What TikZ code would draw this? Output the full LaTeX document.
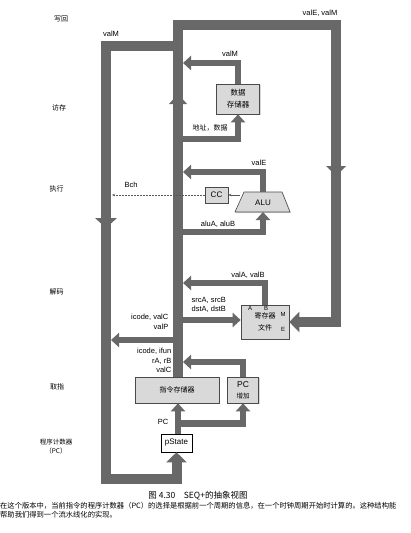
\documentclass[tikz,border=0pt]{standalone}
\usepackage{fontspec}
\setmainfont{Liberation Sans}
\newfontfamily\cjk{Noto Sans CJK SC}
\usetikzlibrary{arrows.meta,shadows}
\definecolor{busgray}{HTML}{686868}
\definecolor{boxfill}{HTML}{D9D9D9}
\definecolor{boxline}{HTML}{4A4A4A}
\begin{document}
\begin{tikzpicture}[x=1pt,y=-1pt,
  bus/.style={draw=busgray, line width=10pt, line join=miter},
  sbus/.style={draw=busgray, line width=6.5pt, line join=miter},
  bigtip/.style={-{Triangle[length=10pt,width=20pt]}},
  smalltip/.style={-{Triangle[length=8pt,width=14pt]}},
  unit/.style={draw=boxline, fill=boxfill, line width=0.6pt, inner sep=0pt,
    drop shadow={shadow xshift=1.2pt, shadow yshift=-1.2pt, fill=gray!60}},
  lbl/.style={font=\fontsize{7.5}{9.5}\selectfont, inner sep=0pt},
  clbl/.style={font=\cjk\fontsize{7}{9}\selectfont, inner sep=0pt},
  tiny/.style={font=\fontsize{6}{7}\selectfont, inner sep=0pt},
]
\useasboundingbox (0,0) rectangle (410,533);
\fill[white] (0,0) rectangle (410,533);

% ---------- units ----------
\node[unit, minimum width=43pt, minimum height=30pt, align=center, font=\cjk\fontsize{7.5}{12}\selectfont] (dmem) at (238,99) {数据\\存储器};
\node[unit, minimum width=48pt, minimum height=34pt, align=center, font=\cjk\fontsize{7}{12}\selectfont] (regf) at (265,322) {寄存器\\文件};
\node[unit, minimum width=84pt, minimum height=26pt, font=\cjk\fontsize{7}{9}\selectfont] (imem) at (177,390) {指令存储器};
\node[unit, minimum width=31pt, minimum height=26pt, align=center] (pcinc) at (243,390) {{\fontsize{8.5}{9}\selectfont PC}\\[-1pt]{\cjk\fontsize{6.5}{7}\selectfont 增加}};
\node[unit, minimum width=23pt, minimum height=16pt, font=\fontsize{8}{9}\selectfont] (cc) at (216.5,195) {CC};
\draw[draw=boxline, fill=boxfill, line width=0.6pt, drop shadow={shadow xshift=1.2pt, shadow yshift=-1.2pt, fill=gray!60}]
  (244,192) -- (282,192) -- (290,212) -- (235,212) -- cycle;
\node[font=\fontsize{8}{9}\selectfont, inner sep=0pt] (alu) at (263,202.5) {ALU};
\coordinate (alutop) at (263,192);
\coordinate (alubot) at (263,212);
\coordinate (aluwest) at (240,195);
\node[draw=black, fill=white, line width=0.6pt, minimum width=31pt, minimum height=18pt, inner sep=0pt, font=\fontsize{8}{9}\selectfont] (pstate) at (176.5,443) {pState};

% register file port letters
\node[tiny] (pa) at (250,308.5) {A};
\node[tiny] (pb) at (266,308.5) {B};
\node[tiny] (pm) at (283,314) {M};
\node[tiny] (pe) at (283,329) {E};

% ---------- bus coordinates ----------
\coordinate (busx) at (178,0);
\coordinate (cbtop) at (178,25);
\coordinate (trcorner) at (336,25);
\coordinate (fbk) at (178,46);
\coordinate (lcorner) at (106,46);
\coordinate (lbottom) at (106,479);
\coordinate (busR63) at (183,63);
\coordinate (addr) at (178,139);
\coordinate (busR172) at (183,172);
\coordinate (alua) at (178,232);
\coordinate (busR283) at (183,283);
\coordinate (src) at (178,320);
\coordinate (dec) at (178,340);
\coordinate (leftR) at (111,340);
\coordinate (busR362) at (183,362);
\coordinate (pcsplit) at (178,423.5);
\coordinate (bchend) at (112,195);

% ---------- main buses ----------
\draw[bus, bigtip] (imem.north -| busx) -- (cbtop) -- (trcorner) |- (regf.east);
\draw[bus, bigtip] (fbk) -- (lcorner) -- (lbottom) -| (pstate.south);

% mid-line arrowheads
\fill[busgray] (169,104) -- (187,104) -- (178,94) -- cycle;
\fill[busgray] (326,166) -- (346,166) -- (336,176) -- cycle;
\fill[busgray] (95,218) -- (117,218) -- (106,228) -- cycle;

% ---------- small buses ----------
\draw[sbus, smalltip] (dmem.north) |- (busR63);
\draw[sbus, smalltip] (addr) -| (dmem.south);
\draw[sbus, smalltip] (alutop) |- (busR172);
\draw[sbus, smalltip] (alua) -| (alubot);
\draw[sbus, smalltip] (regf.north) |- (busR283);
\draw[sbus, smalltip] (src) -- (regf.west |- src);
\draw[sbus, smalltip] (dec) -- (leftR);
\draw[sbus, smalltip] (pcinc.north) |- (busR362);
\draw[sbus, smalltip] (pstate.north -| busx) -- (imem.south -| busx);
\draw[sbus, smalltip] (pcsplit) -| (pcinc.south);

% thin signals
\draw[gray!70!black, line width=0.4pt, -{Stealth[length=3pt,width=2.5pt]}] (aluwest) -- (cc.east);
\draw[gray!70!black, densely dotted, line width=0.5pt, -{Stealth[length=3pt,width=2.5pt]}] (cc.west) -- (bchend);

% ---------- labels ----------
\node[lbl] (l1) at (320,13) {valE, valM};
\node[lbl] (l2) at (111,34) {valM};
\node[lbl] (l3) at (230,54) {valM};
\node[clbl] (l4) at (210,127.5) {地址，数据};
\node[lbl] (l5) at (259,163) {valE};
\node[lbl] (l6) at (131,185) {Bch};
\node[lbl] (l7) at (218,224) {aluA, aluB};
\node[lbl] (l8) at (248,275) {valA, valB};
\node[lbl, anchor=west, align=left] (l9) at (191.5,305) {srcA, srcB\\dstA, dstB};
\node[lbl, anchor=east, align=right] (l10) at (168.5,322) {icode, valC\\valP};
\node[lbl, anchor=east, align=right] (l11) at (171.5,360.5) {icode, ifun\\rA, rB\\valC};
\node[lbl] (l12) at (163,422) {PC};

% stage labels
\node[clbl] (s1) at (61,18.5) {写回};
\node[clbl] (s2) at (59,107.5) {访存};
\node[clbl] (s3) at (56.5,189) {执行};
\node[clbl] (s4) at (56.5,292) {解码};
\node[clbl] (s5) at (57,387) {取指};
\node[clbl, align=center, font=\cjk\fontsize{6.5}{9}\selectfont] (s6) at (56,446.5) {程序计数器\\（PC）};

% caption
\node[clbl, font=\cjk\fontsize{8.5}{10}\selectfont] (cap) at (198,496) {图 4.30\quad SEQ+的抽象视图};
\node[clbl, anchor=west, font=\cjk\fontsize{7.3}{8}\selectfont] (p1) at (0,506) {在这个版本中，当前指令的程序计数器（PC）的选择是根据前一个周期的信息，在一个时钟周期开始时计算的。这种结构能};
\node[clbl, anchor=west, font=\cjk\fontsize{7.3}{8}\selectfont] (p2) at (0,514.5) {帮助我们得到一个流水线化的实现。};
\end{tikzpicture}
\end{document}
